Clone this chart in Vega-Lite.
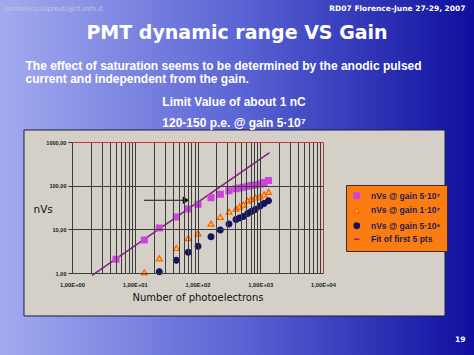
{
  "$schema": "https://vega.github.io/schema/vega-lite/v6.json",
  "width": 251,
  "height": 131,
  "autosize": {"type": "none"},
  "padding": {"left": 72, "top": 142, "right": 151, "bottom": 82},
  "background": "#4a55cc",
  "config": {
    "font": "DejaVu Sans",
    "view": {"stroke": null},
    "legend": {
      "orient": "none",
      "legendX": 274,
      "legendY": 43,
      "fillColor": "#fb7d12",
      "strokeColor": "#3a2a2a",
      "padding": 6.5,
      "rowPadding": 3.5,
      "symbolSize": 30,
      "symbolStrokeWidth": 1.3,
      "labelFont": "Liberation Sans",
      "labelFontWeight": "bold",
      "labelFontSize": 8.5,
      "labelColor": "#1c1c50",
      "labelOffset": 10,
      "title": null
    }
  },
  "title": {
    "text": "PMT dynamic range VS Gain",
    "anchor": "middle",
    "frame": "group",
    "dx": 39.5,
    "dy": 84,
    "offset": 8,
    "color": "white",
    "font": "DejaVu Sans",
    "fontSize": 19,
    "fontWeight": "bold"
  },
  "datasets": {
    "points": [
      {"npe": 5.03, "nvs": 2.06, "series": "nVs @ gain 5·10⁷"},
      {"npe": 14.2, "nvs": 5.7, "series": "nVs @ gain 5·10⁷"},
      {"npe": 24.6, "nvs": 10.7, "series": "nVs @ gain 5·10⁷"},
      {"npe": 45.9, "nvs": 19.2, "series": "nVs @ gain 5·10⁷"},
      {"npe": 71.3, "nvs": 29.2, "series": "nVs @ gain 5·10⁷"},
      {"npe": 102, "nvs": 37.4, "series": "nVs @ gain 5·10⁷"},
      {"npe": 164, "nvs": 53, "series": "nVs @ gain 5·10⁷"},
      {"npe": 231, "nvs": 63.4, "series": "nVs @ gain 5·10⁷"},
      {"npe": 318, "nvs": 76.7, "series": "nVs @ gain 5·10⁷"},
      {"npe": 411, "nvs": 85.2, "series": "nVs @ gain 5·10⁷"},
      {"npe": 467, "nvs": 88.4, "series": "nVs @ gain 5·10⁷"},
      {"npe": 537, "nvs": 91.7, "series": "nVs @ gain 5·10⁷"},
      {"npe": 631, "nvs": 96.7, "series": "nVs @ gain 5·10⁷"},
      {"npe": 720, "nvs": 100.9, "series": "nVs @ gain 5·10⁷"},
      {"npe": 834, "nvs": 103.5, "series": "nVs @ gain 5·10⁷"},
      {"npe": 991, "nvs": 109, "series": "nVs @ gain 5·10⁷"},
      {"npe": 1148, "nvs": 118, "series": "nVs @ gain 5·10⁷"},
      {"npe": 1353, "nvs": 131, "series": "nVs @ gain 5·10⁷"},
      {"npe": 14.2, "nvs": 1.04, "series": "nVs @ gain 1·10⁷"},
      {"npe": 24.6, "nvs": 2.17, "series": "nVs @ gain 1·10⁷"},
      {"npe": 45.9, "nvs": 3.74, "series": "nVs @ gain 1·10⁷"},
      {"npe": 71.3, "nvs": 6.33, "series": "nVs @ gain 1·10⁷"},
      {"npe": 102, "nvs": 8.11, "series": "nVs @ gain 1·10⁷"},
      {"npe": 164, "nvs": 13.5, "series": "nVs @ gain 1·10⁷"},
      {"npe": 231, "nvs": 19.2, "series": "nVs @ gain 1·10⁷"},
      {"npe": 318, "nvs": 25.3, "series": "nVs @ gain 1·10⁷"},
      {"npe": 411, "nvs": 29.7, "series": "nVs @ gain 1·10⁷"},
      {"npe": 467, "nvs": 33.3, "series": "nVs @ gain 1·10⁷"},
      {"npe": 537, "nvs": 37, "series": "nVs @ gain 1·10⁷"},
      {"npe": 631, "nvs": 45.7, "series": "nVs @ gain 1·10⁷"},
      {"npe": 720, "nvs": 49.5, "series": "nVs @ gain 1·10⁷"},
      {"npe": 834, "nvs": 53.6, "series": "nVs @ gain 1·10⁷"},
      {"npe": 991, "nvs": 56.5, "series": "nVs @ gain 1·10⁷"},
      {"npe": 1148, "nvs": 62.8, "series": "nVs @ gain 1·10⁷"},
      {"npe": 1353, "nvs": 72, "series": "nVs @ gain 1·10⁷"},
      {"npe": 24.6, "nvs": 1.07, "series": "nVs @ gain 5·10⁶"},
      {"npe": 45.9, "nvs": 1.95, "series": "nVs @ gain 5·10⁶"},
      {"npe": 71.3, "nvs": 2.98, "series": "nVs @ gain 5·10⁶"},
      {"npe": 102, "nvs": 4.09, "series": "nVs @ gain 5·10⁶"},
      {"npe": 164, "nvs": 6.78, "series": "nVs @ gain 5·10⁶"},
      {"npe": 231, "nvs": 9.66, "series": "nVs @ gain 5·10⁶"},
      {"npe": 318, "nvs": 13.2, "series": "nVs @ gain 5·10⁶"},
      {"npe": 411, "nvs": 16.8, "series": "nVs @ gain 5·10⁶"},
      {"npe": 467, "nvs": 18.2, "series": "nVs @ gain 5·10⁶"},
      {"npe": 537, "nvs": 19.7, "series": "nVs @ gain 5·10⁶"},
      {"npe": 631, "nvs": 23, "series": "nVs @ gain 5·10⁶"},
      {"npe": 720, "nvs": 25.6, "series": "nVs @ gain 5·10⁶"},
      {"npe": 834, "nvs": 28.5, "series": "nVs @ gain 5·10⁶"},
      {"npe": 991, "nvs": 34, "series": "nVs @ gain 5·10⁶"},
      {"npe": 1148, "nvs": 39, "series": "nVs @ gain 5·10⁶"},
      {"npe": 1353, "nvs": 45, "series": "nVs @ gain 5·10⁶"}
    ],
    "fit": [
      {"npe": 2.09, "nvs": 0.885, "series": "Fit of first 5 pts"},
      {"npe": 1406, "nvs": 570, "series": "Fit of first 5 pts"}
    ],
    "arrow": [
      {"from": 14, "to": 65.6, "level": 46.4}
    ]
  },
  "resolve": {"axis": {"x": "independent", "y": "independent"}},
  "layer": [
    {
      "data": {"values": [{}]},
      "mark": {
        "type": "rect",
        "clip": false,
        "fill": {
          "gradient": "linear",
          "x1": 0, "y1": 0, "x2": 1, "y2": 0,
          "stops": [
            {"offset": 0, "color": "#a6aef0"},
            {"offset": 0.5, "color": "#5a64d4"},
            {"offset": 1, "color": "#08089a"}
          ]
        }
      },
      "encoding": {
        "x": {
          "datum": 0.05, "type": "quantitative",
          "scale": {"type": "log", "domain": [1, 10000], "nice": false},
          "axis": {
            "orient": "top", "zindex": 2, "domain": false, "ticks": false, "labels": false, "grid": false,
            "title": "domenico.lopresti@ct.infn.it",
            "titleX": -68, "titleY": -132, "titleAlign": "left", "titleAnchor": "start",
            "titleBaseline": "alphabetic", "titleFont": "DejaVu Sans", "titleFontSize": 7,
            "titleFontWeight": "normal", "titleColor": "#c4c6d8"
          }
        },
        "x2": {"datum": 5000000},
        "y": {
          "datum": 10000000, "type": "quantitative",
          "scale": {"type": "log", "domain": [1, 1000], "nice": false},
          "axis": {
            "orient": "right", "zindex": 2, "domain": false, "ticks": false, "labels": false, "grid": false,
            "title": ["RD07 Florence-June 27-29, 2007", "19"],
            "titleAngle": 0, "titleX": 142, "titleY": -132, "titleAlign": "right",
            "titleBaseline": "alphabetic", "titleLineHeight": 331,
            "titleFont": "DejaVu Sans", "titleFontSize": 7.5, "titleFontWeight": "bold",
            "titleColor": "white"
          }
        },
        "y2": {"datum": 0.005}
      }
    },
    {
      "data": {"values": [{}]},
      "mark": {"type": "rect", "clip": false, "fill": "#d4d0c8", "stroke": "#1a1a40", "strokeWidth": 1},
      "encoding": {
        "x": {
          "datum": 0.1718, "type": "quantitative",
          "scale": {"type": "log", "domain": [1, 10000], "nice": false},
          "axis": {
            "orient": "top", "zindex": 2, "domain": false, "ticks": false, "labels": false, "grid": false,
            "title": [
              "The effect of saturation seems to be determined by the anodic pulsed",
              "current  and independent from the gain."
            ],
            "titleX": -47, "titleY": -73, "titleAlign": "left", "titleAnchor": "start",
            "titleBaseline": "alphabetic", "titleLineHeight": 13,
            "titleFont": "Liberation Sans", "titleFontSize": 12, "titleFontWeight": "bold",
            "titleColor": "white"
          }
        },
        "x2": {"datum": 880000},
        "y": {"datum": 1883, "type": "quantitative", "scale": {"type": "log", "domain": [1, 1000], "nice": false}, "axis": null},
        "y2": {"datum": 0.1036}
      }
    },
    {
      "data": {"name": "fit"},
      "mark": {"type": "line", "strokeWidth": 1.5, "clip": false},
      "encoding": {
        "x": {
          "field": "npe", "type": "quantitative",
          "scale": {"type": "log", "domain": [1, 10000], "nice": false},
          "axis": {
            "orient": "top", "zindex": 2, "domain": false, "ticks": false, "labels": false, "grid": false,
            "title": ["Limit Value of about 1 nC", "120-150 p.e. @ gain 5·10⁷"],
            "titleX": 161.5, "titleY": -37, "titleAlign": "center", "titleAnchor": "middle",
            "titleBaseline": "alphabetic", "titleLineHeight": 21,
            "titleFont": "Liberation Sans", "titleFontSize": 12, "titleFontWeight": "bold",
            "titleColor": "white"
          }
        },
        "y": {"field": "nvs", "type": "quantitative", "scale": {"type": "log", "domain": [1, 1000], "nice": false}, "axis": null},
        "stroke": {
          "field": "series", "type": "nominal",
          "scale": {
            "domain": ["nVs @ gain 5·10⁷", "nVs @ gain 1·10⁷", "nVs @ gain 5·10⁶", "Fit of first 5 pts"],
            "range": ["#cc44dd", "#ff5a00", "#141460", "#8a1a8a"]
          }
        }
      }
    },
    {
      "data": {"name": "arrow"},
      "mark": {"type": "rule", "color": "#111111", "strokeWidth": 1.2},
      "encoding": {
        "x": {"field": "from", "type": "quantitative", "scale": {"type": "log", "domain": [1, 10000], "nice": false}, "axis": null},
        "x2": {"field": "to"},
        "y": {"field": "level", "type": "quantitative", "scale": {"type": "log", "domain": [1, 1000], "nice": false}, "axis": null}
      }
    },
    {
      "data": {"name": "arrow"},
      "mark": {"type": "point", "shape": "triangle-right", "filled": true, "color": "#111111", "size": 60, "opacity": 1},
      "encoding": {
        "x": {"field": "to", "type": "quantitative", "scale": {"type": "log", "domain": [1, 10000], "nice": false}, "axis": null},
        "y": {"field": "level", "type": "quantitative", "scale": {"type": "log", "domain": [1, 1000], "nice": false}, "axis": null}
      }
    },
    {
      "data": {"name": "points"},
      "mark": {"type": "point", "filled": true, "size": 34, "strokeWidth": 1.2, "opacity": 1},
      "encoding": {
        "x": {
          "field": "npe", "type": "quantitative",
          "scale": {"type": "log", "domain": [1, 10000], "nice": false},
          "axis": {
            "orient": "bottom",
            "zindex": 2,
            "values": [1,2,3,4,5,6,7,8,9,10,20,30,40,50,60,70,80,90,100,200,300,400,500,600,700,800,900,1000,2000,3000,4000,5000,6000,7000,8000,9000,10000],
            "labelExpr": "abs(log(datum.value)/LN10 - round(log(datum.value)/LN10)) < 1e-6 ? '1,00E+0' + round(log(datum.value)/LN10) : ''",
            "labelOverlap": false,
            "labelFlush": false,
            "grid": true,
            "gridColor": {"condition": {"test": "datum.value >= 10000", "value": "#cc3333"}, "value": "#3c3c3c"},
            "gridWidth": 1,
            "domain": false,
            "ticks": false,
            "labelFont": "Liberation Sans",
            "labelFontSize": 5.8,
            "labelFontWeight": "bold",
            "labelColor": "#222222",
            "labelPadding": 8,
            "title": "Number of photoelectrons",
            "titleFont": "DejaVu Sans",
            "titleFontSize": 10,
            "titleFontWeight": "normal",
            "titleColor": "#111111",
            "titleY": 27,
            "titleBaseline": "alphabetic"
          }
        },
        "y": {
          "field": "nvs", "type": "quantitative",
          "scale": {"type": "log", "domain": [1, 1000], "nice": false},
          "axis": {
            "orient": "left",
            "zindex": 2,
            "values": [1, 10, 100, 1000],
            "labelExpr": "replace(format(datum.value, '.2f'), '.', ',')",
            "labelOverlap": false,
            "grid": true,
            "gridColor": {"condition": {"test": "datum.value >= 1000", "value": "#cc3333"}, "value": "#3c3c3c"},
            "gridWidth": 1,
            "domain": false,
            "ticks": true,
            "tickSize": 4,
            "tickColor": "#333333",
            "labelFont": "Liberation Sans",
            "labelFontSize": 5.6,
            "labelFontWeight": "bold",
            "labelColor": "#222222",
            "labelPadding": 2,
            "title": "nVs",
            "titleAngle": 0,
            "titleX": -39,
            "titleY": 70,
            "titleAlign": "left",
            "titleBaseline": "alphabetic",
            "titleFont": "DejaVu Sans",
            "titleFontSize": 10.5,
            "titleFontWeight": "normal",
            "titleColor": "#111111"
          }
        },
        "fill": {
          "field": "series", "type": "nominal",
          "scale": {
            "domain": ["nVs @ gain 5·10⁷", "nVs @ gain 1·10⁷", "nVs @ gain 5·10⁶", "Fit of first 5 pts"],
            "range": ["#cc44dd", "#ffd030", "#141460", "transparent"]
          }
        },
        "stroke": {
          "field": "series", "type": "nominal",
          "scale": {
            "domain": ["nVs @ gain 5·10⁷", "nVs @ gain 1·10⁷", "nVs @ gain 5·10⁶", "Fit of first 5 pts"],
            "range": ["#cc44dd", "#ff5a00", "#141460", "#8a1a8a"]
          }
        },
        "shape": {
          "field": "series", "type": "nominal",
          "scale": {
            "domain": ["nVs @ gain 5·10⁷", "nVs @ gain 1·10⁷", "nVs @ gain 5·10⁶", "Fit of first 5 pts"],
            "range": ["square", "triangle-up", "circle", "stroke"]
          }
        }
      }
    }
  ]
}
